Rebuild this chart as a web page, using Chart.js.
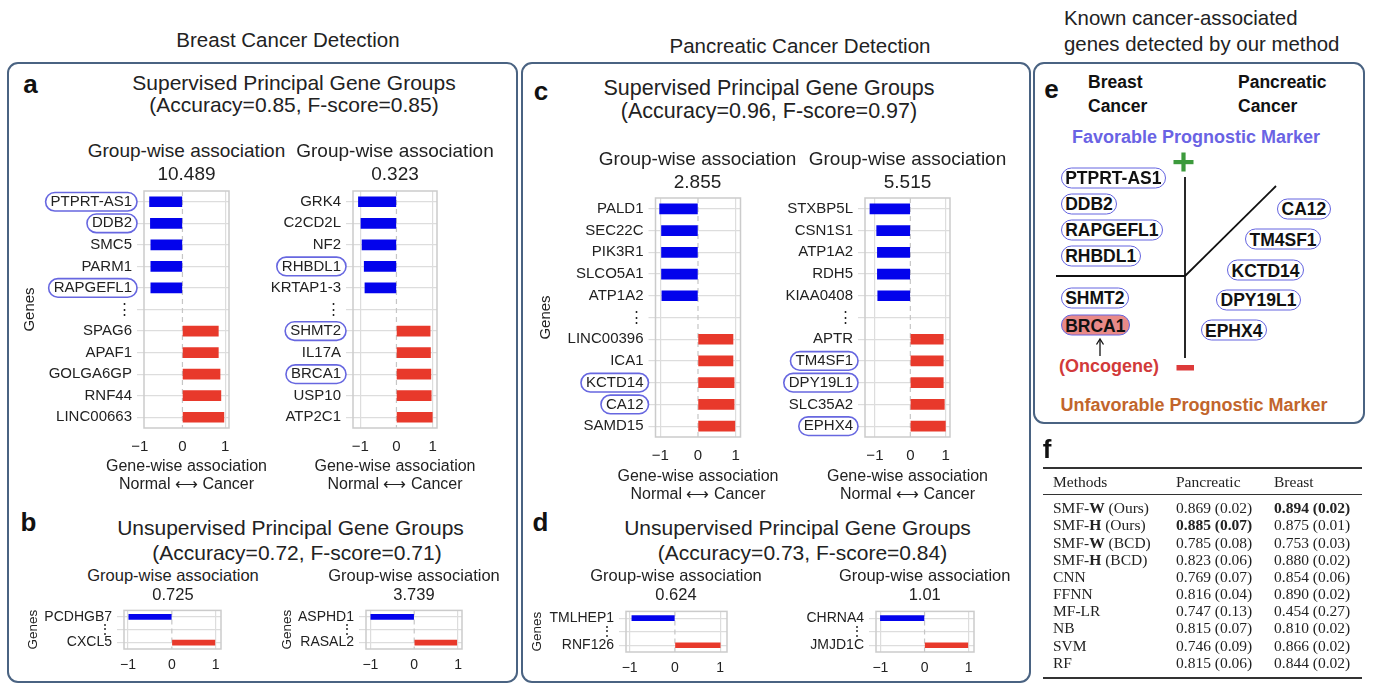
<!DOCTYPE html>
<html><head><meta charset="utf-8"><title>Principal gene groups</title>
<script src="https://cdn.jsdelivr.net/npm/chart.js@4.4.1/dist/chart.umd.min.js"></script>
<style>
html,body{margin:0;padding:0;background:#fff;}
body{width:1376px;height:696px;position:relative;overflow:hidden;font-family:'Liberation Sans',Arial,Helvetica,sans-serif;color:#222;}
.t{position:absolute;white-space:nowrap;transform:translate(-50%,-50%);line-height:1;}
.tl{position:absolute;white-space:nowrap;transform:translate(0,-50%);line-height:1;}
.box{position:absolute;border:2px solid #4a6382;border-radius:11px;box-sizing:border-box;}
.cw{position:absolute;}
.pill{position:absolute;transform:translate(0,-50%);border:1.9px solid #6464e0;border-radius:11px;padding:1.5px 3.5px;font-weight:bold;font-size:17.5px;line-height:16px;background:#fff;color:#111;white-space:nowrap;}
.tab{position:absolute;font-family:'Liberation Serif','Times New Roman',serif;font-size:15.5px;color:#222;white-space:nowrap;transform:translate(0,-50%);line-height:1;}
.rule{position:absolute;left:1043px;width:319px;background:#333;}
</style></head>
<body>
<div class="box" style="left:7px;top:62px;width:511px;height:621px"></div>
<div class="box" style="left:521px;top:62px;width:510px;height:621px"></div>
<div class="box" style="left:1033px;top:62px;width:332px;height:362px"></div>

<svg style="position:absolute;left:0;top:0" width="1376" height="696">
  <line x1="1185" y1="177" x2="1185" y2="358" stroke="#111" stroke-width="1.8"/>
  <line x1="1056" y1="276" x2="1185" y2="276" stroke="#111" stroke-width="1.8"/>
  <line x1="1185" y1="276" x2="1276" y2="186" stroke="#111" stroke-width="1.8"/>
  <rect x="1173.5" y="160" width="20" height="4.2" fill="#3c9a3c"/>
  <rect x="1181.4" y="152.5" width="4.2" height="19" fill="#3c9a3c"/>
  <rect x="1176.5" y="365" width="17.5" height="5.5" fill="#dd3a3a"/>
  <line x1="1100" y1="356" x2="1100" y2="340" stroke="#111" stroke-width="1.3"/>
  <polyline points="1096.5,344.5 1100,339 1103.5,344.5" fill="none" stroke="#111" stroke-width="1.3"/>
</svg>

<script>
// ================= DATA =================
const xTicks = [-1, 0, 1];
const xTitleLines = ['Gene-wise association', 'Normal \u27F7 Cancer'];

const a1Genes  = ["PTPRT-AS1","DDB2","SMC5","PARM1","RAPGEFL1","\u22EE","SPAG6","APAF1","GOLGA6GP","RNF44","LINC00663"];
const a1Values = [-0.77,-0.75,-0.74,-0.74,-0.74,null,0.84,0.84,0.88,0.90,0.97];
const a1Marked = ["PTPRT-AS1","DDB2","RAPGEFL1"];
const a1Score  = "10.489";

const a2Genes  = ["GRK4","C2CD2L","NF2","RHBDL1","KRTAP1-3","\u22EE","SHMT2","IL17A","BRCA1","USP10","ATP2C1"];
const a2Values = [-1.05,-0.98,-0.95,-0.89,-0.87,null,0.93,0.94,0.95,0.96,0.99];
const a2Marked = ["RHBDL1","SHMT2","BRCA1"];
const a2Score  = "0.323";

const c1Genes  = ["PALD1","SEC22C","PIK3R1","SLCO5A1","ATP1A2","\u22EE","LINC00396","ICA1","KCTD14","CA12","SAMD15"];
const c1Values = [-1.02,-0.97,-0.97,-0.97,-0.96,null,0.93,0.93,0.96,0.96,0.98];
const c1Marked = ["KCTD14","CA12"];
const c1Score  = "2.855";

const c2Genes  = ["STXBP5L","CSN1S1","ATP1A2","RDH5","KIAA0408","\u22EE","APTR","TM4SF1","DPY19L1","SLC35A2","EPHX4"];
const c2Values = [-1.14,-0.95,-0.93,-0.93,-0.92,null,0.93,0.93,0.93,0.96,0.99];
const c2Marked = ["TM4SF1","DPY19L1","EPHX4"];
const c2Score  = "5.515";

const b1Genes  = ["PCDHGB7","\u22EE","CXCL5"];
const b1Values = [-0.98,null,0.98];
const b1Score  = "0.725";
const b2Genes  = ["ASPHD1","\u22EE","RASAL2"];
const b2Values = [-0.99,null,0.97];
const b2Score  = "3.739";
const d1Genes  = ["TMLHEP1","\u22EE","RNF126"];
const d1Values = [-0.95,null,1.0];
const d1Score  = "0.624";
const d2Genes  = ["CHRNA4","\u22EE","JMJD1C"];
const d2Values = [-1.0,null,0.98];
const d2Score  = "1.01";

const eBreastFavorable   = ["PTPRT-AS1","DDB2","RAPGEFL1","RHBDL1"];
const eBreastUnfavorable = ["SHMT2","BRCA1"];
const eOncogene          = "BRCA1";
const ePancreatic        = ["CA12","TM4SF1","KCTD14","DPY19L1","EPHX4"];

const methods    = ["SMF-W (Ours)","SMF-H (Ours)","SMF-W (BCD)","SMF-H (BCD)","CNN","FFNN","MF-LR","NB","SVM","RF"];
const pancreatic = ["0.869 (0.02)","0.885 (0.07)","0.785 (0.08)","0.823 (0.06)","0.769 (0.07)","0.816 (0.04)","0.747 (0.13)","0.815 (0.07)","0.746 (0.09)","0.815 (0.06)"];
const breast     = ["0.894 (0.02)","0.875 (0.01)","0.753 (0.03)","0.880 (0.02)","0.854 (0.06)","0.890 (0.02)","0.454 (0.27)","0.810 (0.02)","0.866 (0.02)","0.844 (0.02)"];
const bestPancreaticRow = 1;
const bestBreastRow = 0;

// ================= STYLE / LAYOUT =================
const FONT = "'Liberation Sans', Arial, Helvetica, sans-serif";
Chart.defaults.font.family = FONT;
Chart.defaults.color = '#222';
const BLUE = '#0303ec', RED = '#e8392b', GRID = '#dddddd', FRAME = '#cbcbcb', PILL = '#6767e0';

function put(x, y, text, style, cls) {
  const d = document.createElement('div');
  d.className = cls || 't';
  d.style.left = x + 'px'; d.style.top = y + 'px';
  if (style) d.style.cssText += style;
  d.innerHTML = text;
  document.body.appendChild(d);
  return d;
}

const framePlugin = {
  id: 'frame',
  beforeDatasetsDraw(chart) {
    const {ctx, chartArea: a, scales: {x}} = chart;
    const x0 = x.getPixelForValue(0);
    ctx.save();
    ctx.strokeStyle = '#c6c6c6'; ctx.lineWidth = 1.2; ctx.setLineDash([5, 4]);
    ctx.beginPath(); ctx.moveTo(x0, a.top); ctx.lineTo(x0, a.bottom); ctx.stroke();
    ctx.restore();
  },
  afterDatasetsDraw(chart) {
    const {ctx, chartArea: a} = chart;
    ctx.save(); ctx.strokeStyle = FRAME; ctx.lineWidth = 1.5;
    ctx.strokeRect(a.left, a.top, a.right - a.left, a.bottom - a.top);
    ctx.restore();
  },
  afterDraw(chart, args, opts) {
    const {ctx, chartArea: a} = chart;
    if (opts.xtitle) {
      ctx.save();
      ctx.font = '16px ' + FONT; ctx.fillStyle = '#222';
      ctx.textAlign = 'center'; ctx.textBaseline = 'middle';
      const cx = (a.left + a.right) / 2;
      xTitleLines.forEach((line, i) => ctx.fillText(line, cx, a.bottom + opts.xt0 + i * 18));
      ctx.restore();
    }
    const marked = opts.marked || [];
    if (!marked.length) return;
    const ys = chart.scales.y;
    ctx.save();
    ctx.font = opts.fs + 'px ' + FONT;
    ctx.strokeStyle = PILL; ctx.lineWidth = 1.6;
    const right = ys.right - 12;
    marked.forEach(name => {
      const i = chart.data.labels.indexOf(name);
      if (i < 0) return;
      const y = ys.getPixelForTick(i);
      const w = ctx.measureText(name).width;
      ctx.beginPath();
      ctx.roundRect(right - w - 5, y - 9.3, w + 10, 18.6, 9.3);
      ctx.stroke();
    });
    ctx.restore();
  }
};

function makeChart(spec) {
  const [L, T, R, B] = spec.box;
  const padT = 10, padR = 70;
  const W = spec.wy + (R - L) + padR;
  const H = padT + (B - T) + spec.hx;
  const div = document.createElement('div');
  div.className = 'cw';
  div.style.left = (L - spec.wy) + 'px';
  div.style.top = (T - padT) + 'px';
  div.style.width = W + 'px';
  div.style.height = H + 'px';
  const cv = document.createElement('canvas');
  div.appendChild(cv);
  document.body.appendChild(div);
  new Chart(cv, {
    type: 'bar',
    data: {
      labels: spec.labels,
      datasets: [{
        data: spec.values,
        backgroundColor: spec.values.map(v => v == null ? 'rgba(0,0,0,0)' : (v < 0 ? BLUE : RED)),
        barThickness: spec.barT,
        borderWidth: 0
      }]
    },
    options: {
      indexAxis: 'y',
      responsive: true,
      maintainAspectRatio: false,
      animation: false,
      layout: {padding: {left: 0, top: padT, right: padR, bottom: 0}},
      plugins: {
        legend: {display: false},
        tooltip: {enabled: false},
        frame: {marked: spec.marked || [], fs: spec.yfs, xtitle: spec.xtitle, xt0: spec.xt0}
      },
      scales: {
        x: {
          type: 'linear', min: spec.min, max: spec.max,
          afterBuildTicks: s => { s.ticks = xTicks.map(v => ({value: v})); },
          afterFit: s => { s.height = spec.hx; },
          grid: {
            drawTicks: false, lineWidth: 1.2,
            color: c => {
              const v = c.tick ? c.tick.value : null;
              if (v === null || v === 0 || v < c.scale.min - 1e-9 || v > c.scale.max + 1e-9) return 'rgba(0,0,0,0)';
              return GRID;
            }
          },
          border: {display: false},
          ticks: {
            autoSkip: false, maxRotation: 0, padding: spec.xpad,
            font: {size: spec.xfs, lineHeight: 1.2}, color: '#222',
            callback: v => v < 0 ? '\u2212' + Math.abs(v) : String(v)
          },
          title: {display: false}
        },
        y: {
          afterFit: s => { s.width = spec.wy; },
          grid: {offset: false, color: GRID, lineWidth: 1.2, drawTicks: true, tickLength: 7, tickColor: GRID},
          border: {display: false},
          ticks: {autoSkip: false, padding: 5, font: {size: spec.yfs, lineHeight: 1.2}, color: '#222'},
          title: spec.genes ? {
            display: true, text: 'Genes', font: {size: spec.gfs, lineHeight: 1.2}, color: '#222', padding: 0
          } : {display: false}
        }
      }
    },
    plugins: [framePlugin]
  });
}

const TOP = {yfs: 15, xfs: 15, xpad: 10, barT: 10, xtitle: true, gfs: 15};
const BOT = {yfs: 14, xfs: 14, xpad: 7.5, barT: 5, xtitle: false, gfs: 13.5, hx: 30};

makeChart(Object.assign({}, TOP, {labels: a1Genes, values: a1Values, marked: a1Marked, box: [144,187,229,428], wy: 123, hx: 66, xt0: 39, min: -0.9, max: 1.09, genes: true}));
makeChart(Object.assign({}, TOP, {labels: a2Genes, values: a2Values, marked: a2Marked, box: [353,187,437,428], wy: 130, hx: 66, xt0: 39, min: -1.2, max: 1.12, genes: false}));
makeChart(Object.assign({}, TOP, {labels: c1Genes, values: c1Values, marked: c1Marked, box: [655,194,740,437], wy: 118.5, hx: 67, xt0: 40, min: -1.13, max: 1.13, genes: true}));
makeChart(Object.assign({}, TOP, {labels: c2Genes, values: c2Values, marked: c2Marked, box: [865,194,950,437], wy: 130, hx: 67, xt0: 40, min: -1.28, max: 1.12, genes: false}));
makeChart(Object.assign({}, BOT, {labels: b1Genes, values: b1Values, box: [124,607,221,649], wy: 99, min: -1.09, max: 1.12, genes: true}));
makeChart(Object.assign({}, BOT, {labels: b2Genes, values: b2Values, box: [366,607,462,649], wy: 87, min: -1.1, max: 1.09, genes: true}));
makeChart(Object.assign({}, BOT, {labels: d1Genes, values: d1Values, box: [626,608,727,652], wy: 97, min: -1.08, max: 1.15, genes: true}));
makeChart(Object.assign({}, BOT, {labels: d2Genes, values: d2Values, box: [876,608,974,652], wy: 100, min: -1.1, max: 1.12, genes: false}));

// ================= TEXT =================
put(288, 40, 'Breast Cancer Detection', 'font-size:20.5px');
put(800, 46, 'Pancreatic Cancer Detection', 'font-size:20.5px');
put(1064, 18, 'Known cancer-associated', 'font-size:20.4px', 'tl');
put(1064, 44, 'genes detected by our method', 'font-size:20.4px', 'tl');

const GW = 'Group-wise association';
// panel a
put(30.5, 83.5, 'a', 'font-size:26px;font-weight:bold;color:#111');
put(294, 81.5, 'Supervised Principal Gene Groups', 'font-size:21px');
put(294, 104, '(Accuracy=0.85, F-score=0.85)', 'font-size:21px');
put(186.5, 150, GW, 'font-size:19px'); put(186.5, 172.5, a1Score, 'font-size:19px');
put(395, 150, GW, 'font-size:19px');   put(395, 172.5, a2Score, 'font-size:19px');
// panel b
put(28.5, 522, 'b', 'font-size:26px;font-weight:bold;color:#111');
put(290.5, 527, 'Unsupervised Principal Gene Groups', 'font-size:21px');
put(297, 551.5, '(Accuracy=0.72, F-score=0.71)', 'font-size:21px');
put(173, 574.5, GW, 'font-size:16.5px'); put(173, 594, b1Score, 'font-size:16.5px');
put(414, 574.5, GW, 'font-size:16.5px'); put(414, 594, b2Score, 'font-size:16.5px');
// panel c
put(541, 91, 'c', 'font-size:26px;font-weight:bold;color:#111');
put(769, 89, 'Supervised Principal Gene Groups', 'font-size:21.5px');
put(769, 112, '(Accuracy=0.96, F-score=0.97)', 'font-size:21.5px');
put(697.5, 158, GW, 'font-size:19px'); put(697.5, 181, c1Score, 'font-size:19px');
put(907.5, 158, GW, 'font-size:19px'); put(907.5, 181, c2Score, 'font-size:19px');
// panel d
put(540.5, 522, 'd', 'font-size:26px;font-weight:bold;color:#111');
put(797.5, 527, 'Unsupervised Principal Gene Groups', 'font-size:21px');
put(802.5, 551.5, '(Accuracy=0.73, F-score=0.84)', 'font-size:21px');
put(676, 574.5, GW, 'font-size:16.5px'); put(676, 594, d1Score, 'font-size:16.5px');
put(924.7, 574.5, GW, 'font-size:16.5px'); put(924.7, 594, d2Score, 'font-size:16.5px');

// panel e
put(1051.5, 88.5, 'e', 'font-size:26px;font-weight:bold;color:#111');
put(1088, 83, 'Breast', 'font-size:17.5px;font-weight:bold;color:#111', 'tl');
put(1088, 107, 'Cancer', 'font-size:17.5px;font-weight:bold;color:#111', 'tl');
put(1238, 83, 'Pancreatic', 'font-size:17.5px;font-weight:bold;color:#111', 'tl');
put(1238, 107, 'Cancer', 'font-size:17.5px;font-weight:bold;color:#111', 'tl');
put(1072, 137, 'Favorable Prognostic Marker', 'font-size:18px;font-weight:bold;color:#6a63e4', 'tl');
put(1060.5, 404.5, 'Unfavorable Prognostic Marker', 'font-size:18px;font-weight:bold;color:#c2652c', 'tl');
put(1059, 366, '(Oncogene)', 'font-size:18px;font-weight:bold;color:#d23a3a', 'tl');

const breastPillY = [177.5, 203.5, 229.5, 255.5];
eBreastFavorable.forEach((g, i) => { put(1060.7, breastPillY[i], g, '', 'pill'); });
const breastUnfavY = [297.5, 325];
eBreastUnfavorable.forEach((g, i) => {
  const p = put(1060.7, breastUnfavY[i], g, '', 'pill');
  if (g === eOncogene) p.style.background = '#e98a88';
});
const pancPillPos = [[1277, 208.5], [1245, 239], [1227, 270], [1216, 299.5], [1200.5, 330]];
ePancreatic.forEach((g, i) => { put(pancPillPos[i][0], pancPillPos[i][1], g, '', 'pill'); });

// panel f
put(1047, 449, 'f', 'font-size:26px;font-weight:bold;color:#111');
const r1 = document.createElement('div'); r1.className = 'rule'; r1.style.top = '467px'; r1.style.height = '2px'; document.body.appendChild(r1);
const r2 = document.createElement('div'); r2.className = 'rule'; r2.style.top = '493.5px'; r2.style.height = '1px'; document.body.appendChild(r2);
const r3 = document.createElement('div'); r3.className = 'rule'; r3.style.top = '677px'; r3.style.height = '2px'; document.body.appendChild(r3);
const colX = [1053, 1176, 1274];
put(colX[0], 482, 'Methods', '', 'tab');
put(colX[1], 482, 'Pancreatic', '', 'tab');
put(colX[2], 482, 'Breast', '', 'tab');
methods.forEach((m, i) => {
  const y = 508.3 + i * 17.16;
  put(colX[0], y, m.replace(/^SMF-(W|H)/, 'SMF-<b>$1</b>'), '', 'tab');
  put(colX[1], y, pancreatic[i], i === bestPancreaticRow ? 'font-weight:bold' : '', 'tab');
  put(colX[2], y, breast[i], i === bestBreastRow ? 'font-weight:bold' : '', 'tab');
});
</script>
</body></html>
